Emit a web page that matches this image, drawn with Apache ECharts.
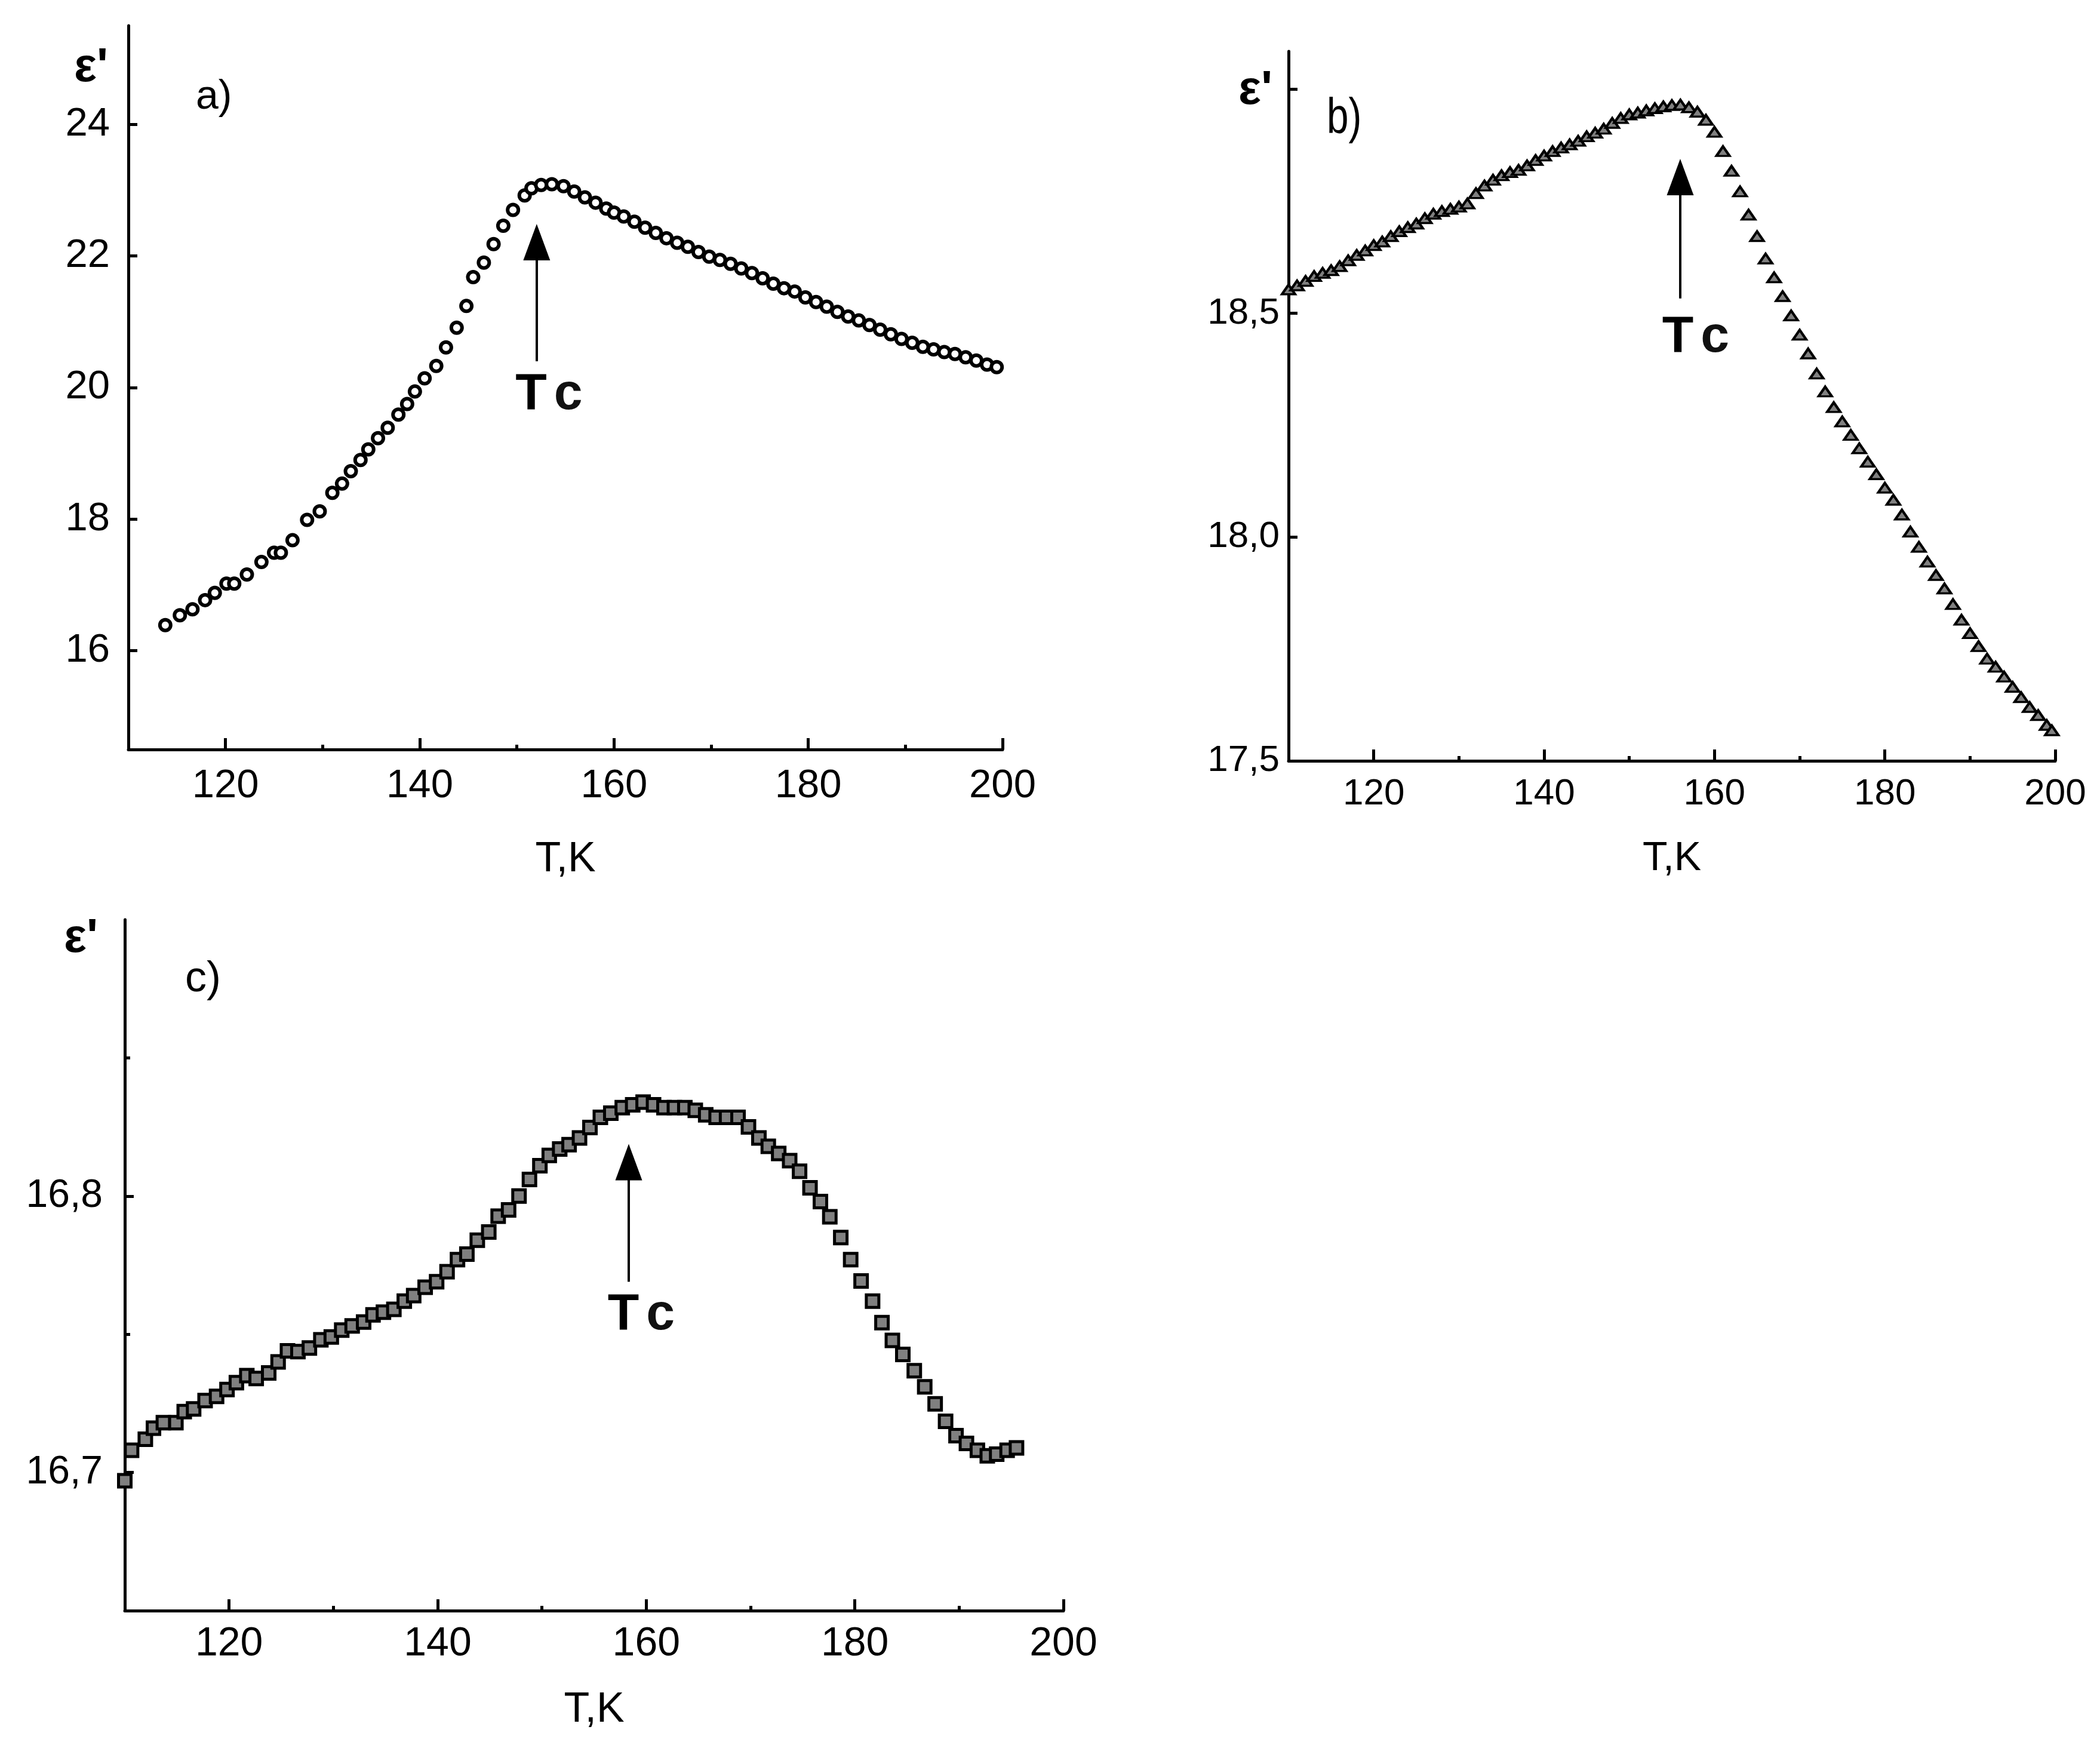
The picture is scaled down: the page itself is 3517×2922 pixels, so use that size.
<!DOCTYPE html>
<html>
<head>
<meta charset="utf-8">
<script src="https://cdn.jsdelivr.net/npm/echarts@6/dist/echarts.min.js"></script>
<style>
html,body{margin:0;padding:0;background:#fff;}
#chart{width:3517px;height:2922px;}
</style>
</head>
<body>
<div id="chart"></div>
<script>
// ---------- data ----------
// Panel a) : open circles
const aT = [113.8,115.3,116.6,117.9,118.9,120.1,120.9,122.2,123.7,125.0,125.7,126.9,128.4,129.7,131.0,132.0,132.9,133.9,134.7,135.7,136.7,137.8,138.7,139.5,140.5,141.7,142.7,143.8,144.8,145.5,146.6,147.6,148.6,149.6,150.8,151.5,152.5,153.6,154.8,155.9,157.0,158.1,159.2,160.0,161.0,162.1,163.2,164.3,165.4,166.5,167.6,168.7,169.8,170.9,172.0,173.1,174.2,175.3,176.4,177.5,178.6,179.7,180.8,181.9,183.0,184.1,185.2,186.3,187.4,188.5,189.6,190.7,191.8,192.9,194.0,195.1,196.2,197.3,198.4,199.4];
const aEps = [16.39,16.54,16.63,16.77,16.88,17.02,17.02,17.16,17.35,17.49,17.49,17.68,17.99,18.12,18.40,18.54,18.73,18.90,19.06,19.23,19.39,19.59,19.75,19.94,20.14,20.33,20.61,20.91,21.24,21.68,21.90,22.18,22.46,22.70,22.92,23.03,23.08,23.09,23.06,22.98,22.89,22.81,22.72,22.66,22.60,22.52,22.43,22.35,22.27,22.20,22.14,22.06,21.99,21.94,21.88,21.81,21.74,21.66,21.58,21.51,21.46,21.37,21.30,21.23,21.15,21.08,21.02,20.95,20.88,20.81,20.74,20.68,20.62,20.58,20.54,20.51,20.46,20.41,20.35,20.31];

// Panel b) : grey triangles
const bT = [110,111,112,113,114,115,116,117,118,119,120,121,122,123,124,125,126,127,128,129,130,131,132,133,134,135,136,137,138,139,140,141,142,143,144,145,146,147,148,149,150,151,152,153,154,155,156,157,158,159,160,161,162,163,164,165,166,167,168,169,170,171,172,173,174,175,176,177,178,179,180,181,182,183,184,185,186,187,188,189,190,191,192,193,194,195,196,197,198,199,199.6];
const bEps = [18.553,18.562,18.572,18.583,18.590,18.596,18.605,18.618,18.630,18.640,18.652,18.660,18.672,18.683,18.692,18.700,18.712,18.722,18.728,18.733,18.738,18.745,18.768,18.785,18.798,18.808,18.815,18.820,18.830,18.842,18.852,18.862,18.870,18.877,18.885,18.895,18.903,18.912,18.925,18.936,18.944,18.948,18.953,18.958,18.962,18.965,18.966,18.960,18.950,18.932,18.905,18.862,18.818,18.772,18.720,18.672,18.622,18.580,18.538,18.495,18.452,18.410,18.365,18.325,18.290,18.258,18.228,18.198,18.168,18.140,18.110,18.083,18.050,18.012,17.978,17.945,17.915,17.885,17.850,17.815,17.785,17.756,17.728,17.710,17.688,17.665,17.642,17.620,17.602,17.580,17.568];

// Panel c) : grey squares
const cT = [110.0,110.65,111.97,112.75,113.7,114.9,115.7,116.6,117.7,118.8,119.8,120.7,121.7,122.6,123.8,124.7,125.6,126.6,127.7,128.8,129.8,130.8,131.8,132.9,133.8,134.8,135.8,136.8,137.7,138.8,139.9,140.9,141.9,142.8,143.8,144.9,145.8,146.8,147.8,148.8,149.8,150.7,151.7,152.6,153.6,154.6,155.6,156.6,157.7,158.7,159.7,160.7,161.7,162.7,163.7,164.7,165.7,166.7,167.7,168.8,169.8,170.8,171.7,172.7,173.75,174.7,175.7,176.7,177.6,178.65,179.6,180.6,181.7,182.6,183.6,184.6,185.7,186.7,187.7,188.7,189.7,190.7,191.75,192.7,193.6,194.6,195.5];
const cEps = [16.697,16.708,16.712,16.716,16.718,16.718,16.722,16.723,16.726,16.7275,16.730,16.7325,16.735,16.734,16.736,16.740,16.744,16.7437,16.745,16.748,16.749,16.7515,16.753,16.7544,16.757,16.758,16.759,16.762,16.764,16.767,16.769,16.7726,16.777,16.779,16.784,16.787,16.7927,16.795,16.800,16.806,16.811,16.8147,16.817,16.8186,16.821,16.8248,16.8285,16.830,16.832,16.833,16.834,16.833,16.832,16.832,16.832,16.831,16.8294,16.8285,16.8285,16.8285,16.825,16.821,16.818,16.8154,16.8128,16.809,16.803,16.798,16.7925,16.785,16.777,16.7693,16.762,16.7542,16.7478,16.7427,16.7368,16.731,16.7248,16.7185,16.7133,16.7105,16.708,16.706,16.7066,16.708,16.7089];

// ---------- tick values ----------
const xTicks = [120,140,160,180,200];
const xMinorTicks = [130,150,170,190];
const aYTicks = [16,18,20,22,24];
const bYTicks = [18.0,18.5,19.0];
const bYLabels = [17.5,18.0,18.5];
const cYTicks = [16.7,16.8];
const cYMinorTicks = [16.75,16.85];
const cYLabels = [16.7,16.8];

// ---------- Tc annotations: [T, tail eps, head eps, label T, label eps] ----------
const aTc = [152.04, 20.40, 22.21, 153.3, 19.89];
const bTc = [155.98, 18.533, 18.804, 157.8, 18.445];
const cTc = [158.32, 16.769, 16.8123, 159.52, 16.757];

// ---------- styling ----------
const FONT = 'Liberation Sans, Arial, sans-serif';
const BLACK = '#000';
const comma = v => Number(v).toFixed(1).replace('.', ',');

function majorX(grid, fontSize, margin, nameGap, nameSize) {
  return {
    gridIndex: grid, type: 'value', min: 110, max: 200, position: 'bottom',
    axisLine: {show: true, onZero: false, lineStyle: {color: BLACK, width: 5}},
    axisTick: {show: true, inside: true, length: 19, lineStyle: {color: BLACK, width: 5}, customValues: xTicks},
    axisLabel: {show: true, customValues: xTicks, margin: margin, fontSize: fontSize, fontFamily: FONT, color: BLACK},
    splitLine: {show: false},
    name: 'T,K', nameLocation: 'middle', nameGap: nameGap,
    nameTextStyle: {fontSize: nameSize, fontFamily: FONT, color: BLACK}
  };
}
function minorX(grid) {
  return {
    gridIndex: grid, type: 'value', min: 110, max: 200, position: 'bottom', offset: 0,
    axisLine: {show: false, onZero: false},
    axisTick: {show: true, inside: true, length: 8, lineStyle: {color: BLACK, width: 5}, customValues: xMinorTicks},
    axisLabel: {show: false},
    splitLine: {show: false}
  };
}
function majorY(grid, min, max, ticks, labels, fmt, fontSize, margin) {
  return {
    gridIndex: grid, type: 'value', min: min, max: max, position: 'left',
    axisLine: {show: true, onZero: false, lineStyle: {color: BLACK, width: 5}},
    axisTick: {show: true, inside: true, length: 15, lineStyle: {color: BLACK, width: 5}, customValues: ticks},
    axisLabel: {show: true, customValues: labels, formatter: fmt, margin: margin, fontSize: fontSize, fontFamily: FONT, color: BLACK},
    splitLine: {show: false}
  };
}

function tcMarks(tc) {
  return {
    markLine: {
      silent: true, animation: false,
      symbol: ['none', 'triangle'], symbolSize: [45, 61],
      lineStyle: {color: BLACK, width: 4, type: 'solid'},
      itemStyle: {color: BLACK},
      label: {show: false},
      emphasis: {disabled: true},
      data: [[{coord: [tc[0], tc[1]]}, {coord: [tc[0], tc[2]]}]]
    },
    markPoint: {
      silent: true, animation: false,
      symbol: 'circle', symbolSize: 1,
      itemStyle: {color: 'rgba(0,0,0,0)'},
      label: {
        show: true, position: 'inside', formatter: '{t|T}{c|c}',
        rich: {
          t: {fontSize: 86, fontWeight: 'bold', fontFamily: FONT, color: BLACK, padding: [0, 12, 0, 0]},
          c: {fontSize: 86, fontWeight: 'bold', fontFamily: FONT, color: '#111'}
        }
      },
      emphasis: {disabled: true},
      data: [{coord: [tc[3], tc[4]]}]
    }
  };
}

function textEl(txt, x, y, size, weight, sx) {
  return {
    type: 'text', x: x, y: y, scaleX: sx || 1, silent: true,
    style: {text: txt, fontSize: size, fontWeight: weight, fontFamily: FONT, fill: BLACK,
            textAlign: 'left', textVerticalAlign: 'middle'}
  };
}

const chart = echarts.init(document.getElementById('chart'), null, {renderer: 'canvas'});
chart.setOption({
  backgroundColor: '#fff',
  animation: false,
  grid: [
    {left: 215, top: 43, width: 1464, height: 1212, containLabel: false, outerBoundsMode: 'none'},
    {left: 2158, top: 86, width: 1284, height: 1188, containLabel: false, outerBoundsMode: 'none'},
    {left: 209, top: 1540, width: 1572, height: 1157, containLabel: false, outerBoundsMode: 'none'}
  ],
  xAxis: [
    majorX(0, 67, 28, 150, 70),
    majorX(1, 62, 25, 130, 68),
    majorX(2, 68, 22, 132, 70),
    minorX(0), minorX(1), minorX(2)
  ],
  yAxis: [
    majorY(0, 14.5, 25.5, aYTicks, aYTicks, v => String(v), 67, 31),
    majorY(1, 17.5, 19.085, bYTicks, bYLabels, comma, 62, 15),
    majorY(2, 16.65, 16.9, cYTicks, cYLabels, comma, 66, 37),
    {
      gridIndex: 2, type: 'value', min: 16.65, max: 16.9, position: 'left', offset: 0,
      axisLine: {show: false, onZero: false},
      axisTick: {show: true, inside: true, length: 9, lineStyle: {color: BLACK, width: 5}, customValues: cYMinorTicks},
      axisLabel: {show: false}, splitLine: {show: false}
    }
  ],
  series: [
    Object.assign({
      type: 'scatter', xAxisIndex: 0, yAxisIndex: 0,
      symbol: 'circle', symbolSize: 18,
      itemStyle: {color: '#fff', borderColor: BLACK, borderWidth: 6, opacity: 1},
      emphasis: {disabled: true},
      data: aT.map((t, i) => [t, aEps[i]])
    }, tcMarks(aTc)),
    Object.assign({
      type: 'scatter', xAxisIndex: 1, yAxisIndex: 1,
      symbol: 'triangle', symbolSize: [22, 16],
      itemStyle: {color: '#808080', borderColor: BLACK, borderWidth: 4, opacity: 1},
      emphasis: {disabled: true},
      data: bT.map((t, i) => [t, bEps[i]])
    }, tcMarks(bTc)),
    Object.assign({
      type: 'scatter', xAxisIndex: 2, yAxisIndex: 2,
      symbol: 'rect', symbolSize: 21,
      itemStyle: {color: '#808080', borderColor: BLACK, borderWidth: 5, opacity: 1},
      emphasis: {disabled: true},
      data: cT.map((t, i) => [t, cEps[i]])
    }, tcMarks(cTc))
  ],
  graphic: [
    textEl("ε'", 124, 114, 80, 'bold'),
    textEl("ε'", 2074, 152, 80, 'bold'),
    textEl("ε'", 107, 1572, 80, 'bold'),
    textEl('a)', 328, 163, 68, 'normal'),
    textEl('b)', 2222, 200, 84, 'normal', 0.78),
    textEl('c)', 310, 1640, 72, 'normal')
  ]
});
</script>
</body>
</html>
